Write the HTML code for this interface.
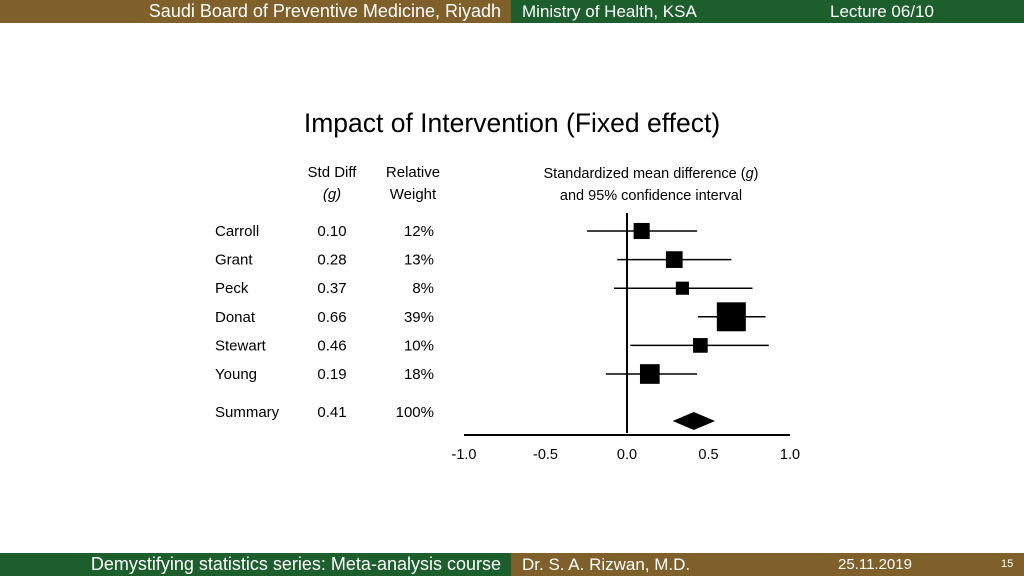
<!DOCTYPE html>
<html><head><meta charset="utf-8"><style>
body{margin:0;width:1024px;height:576px;background:#fff;position:relative;overflow:hidden;font-family:"Liberation Sans",sans-serif}
.bar{position:absolute;height:23px;color:#fff;font-size:17px;line-height:23px}
</style></head><body>
<div class="bar" style="left:0;top:0;width:511px;background:#7f5f2a;text-align:right;font-size:18px"><span style="padding-right:10px">Saudi Board of Preventive Medicine, Riyadh</span></div>
<div class="bar" style="left:511px;top:0;width:513px;background:#1c5e2c"><span style="margin-left:11px">Ministry of Health, KSA</span><span style="position:absolute;left:319px">Lecture 06/10</span></div>
<div class="bar" style="left:0;top:553px;width:511px;background:#1c5e2c;text-align:right;font-size:18px"><span style="padding-right:10px">Demystifying statistics series: Meta-analysis course</span></div>
<div class="bar" style="left:511px;top:553px;width:513px;background:#7f5f2a"><span style="margin-left:11px">Dr. S. A. Rizwan, M.D.</span><span style="position:absolute;left:327px;font-size:15px">25.11.2019</span><span style="position:absolute;left:490px;font-size:11px">15</span></div>
<svg id="c" width="1024" height="576" style="position:absolute;left:0;top:0" font-family="Liberation Sans, sans-serif">
<text x="512" y="132" font-size="26.5" text-anchor="middle">Impact of Intervention (Fixed effect)</text>
<text x="332" y="177" font-size="15" text-anchor="middle">Std Diff</text>
<text x="332" y="199" font-size="15" text-anchor="middle" font-style="italic">(g)</text>
<text x="413" y="177" font-size="15" text-anchor="middle">Relative</text>
<text x="413" y="199" font-size="15" text-anchor="middle">Weight</text>
<text x="651" y="178" font-size="14.5" text-anchor="middle">Standardized mean difference (<tspan font-style="italic">g</tspan>)</text>
<text x="651" y="200" font-size="14.5" text-anchor="middle">and 95% confidence interval</text>
<g id="g"></g>
</svg>
<script>
const studies=["Carroll","Grant","Peck","Donat","Stewart","Young"];
const gvals=[0.10,0.28,0.37,0.66,0.46,0.19];
const points=[0.09,0.29,0.34,0.64,0.45,0.14];
const lower=[-0.245,-0.06,-0.08,0.435,0.02,-0.13];
const upper=[0.43,0.64,0.77,0.85,0.87,0.43];
const weights=[12,13,8,39,10,18];
const summary=[0.41,0.28,0.54];
const ticks=[-1.0,-0.5,0.0,0.5,1.0];
const X=v=>627+v*163;
const rowY=i=>231+i*28.6;
const g=document.getElementById('g');
const NS='http://www.w3.org/2000/svg';
function mk(t,a){const e=document.createElementNS(NS,t);for(const k in a)e.setAttribute(k,a[k]);g.appendChild(e);return e;}
let e=mk('line',{x1:X(0),x2:X(0),y1:213,y2:433,stroke:'#000','stroke-width':2});


e=mk('line',{x1:X(-1),x2:X(1),y1:435,y2:435,stroke:'#000','stroke-width':2});


ticks.forEach(t=>{const el=mk('text',{x:X(t),y:459,'font-size':14.5,'text-anchor':'middle'});el.textContent=t.toFixed(1);

});
studies.forEach((s,i)=>{const y=rowY(i);
let t=mk('text',{x:215,y:y+5,'font-size':15});t.textContent=s;


t=mk('text',{x:332,y:y+5,'font-size':15,'text-anchor':'middle'});t.textContent=gvals[i].toFixed(2);


t=mk('text',{x:434,y:y+5,'font-size':15,'text-anchor':'end'});t.textContent=weights[i]+'%';


const l=mk('line',{x1:X(lower[i]),x2:X(upper[i]),y1:y,y2:y,stroke:'#000','stroke-width':1.5});


const sz=4.64*Math.sqrt(weights[i]);
const r=mk('rect',{x:X(points[i])-sz/2,y:y-sz/2,width:sz,height:sz,fill:'#000'});


});
let t=mk('text',{x:215,y:417,'font-size':15});t.textContent='Summary';


t=mk('text',{x:332,y:417,'font-size':15,'text-anchor':'middle'});t.textContent=summary[0].toFixed(2);


t=mk('text',{x:434,y:417,'font-size':15,'text-anchor':'end'});t.textContent='100%';


const d=mk('polygon',{points:`${X(summary[1])},421 ${X(summary[0])},412 ${X(summary[2])},421 ${X(summary[0])},430`,fill:'#000'});


</script>
</body></html>
